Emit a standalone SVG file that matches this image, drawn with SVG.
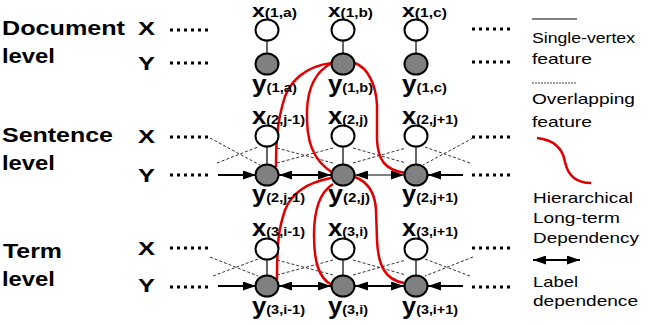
<svg xmlns="http://www.w3.org/2000/svg" width="648" height="325" viewBox="0 0 648 325">
<style>
.bg{fill:#fff}
.nx{fill:#fff;stroke:#000;stroke-width:2}
.ny{fill:#808080;stroke:#000;stroke-width:2}
.lab{font-family:"Liberation Sans",Arial,sans-serif;font-weight:bold;font-size:23px;fill:#000}
.top{font-size:19px}
.sub{font-size:13px}
.lvl{font-family:"Liberation Sans",Arial,sans-serif;font-weight:bold;font-size:21px;fill:#000}
.xy{font-family:"Liberation Sans",Arial,sans-serif;font-weight:bold;font-size:19px;fill:#000}
.leg{font-family:"Liberation Sans",Arial,sans-serif;font-size:15px;fill:#000}
.dots{stroke:#000;stroke-width:3;stroke-dasharray:3 4;fill:none}
.ovl{stroke:#333;stroke-width:1;stroke-dasharray:3 2;fill:none}
.sv{stroke:#000;stroke-width:1.2;fill:none}
.hl{stroke:#e00000;stroke-width:2.5;fill:none}
.ld{stroke:#000;stroke-width:2;fill:none}
.ldt{stroke:#000;stroke-width:1;fill:none}
</style>
<defs>
<marker id="ah" viewBox="0 0 13 9" refX="13" refY="4.5" markerWidth="13" markerHeight="9" markerUnits="userSpaceOnUse" orient="auto-start-reverse"><path d="M0,0 L13,4.5 L0,9 z" fill="#000"/></marker>
</defs>
<rect class="bg" width="648" height="325"/>

<!-- level labels -->
<g id="level-labels">
<text class="lvl" x="2" y="35" textLength="123" lengthAdjust="spacingAndGlyphs">Document</text>
<text class="lvl" x="2" y="63" textLength="53" lengthAdjust="spacingAndGlyphs">level</text>
<text class="lvl" x="2" y="142" textLength="111" lengthAdjust="spacingAndGlyphs">Sentence</text>
<text class="lvl" x="2" y="170" textLength="53" lengthAdjust="spacingAndGlyphs">level</text>
<text class="lvl" x="3" y="258" textLength="59" lengthAdjust="spacingAndGlyphs">Term</text>
<text class="lvl" x="2" y="286" textLength="53" lengthAdjust="spacingAndGlyphs">level</text>
</g>
<g id="row-labels">
<text class="xy" x="138" y="35" textLength="17" lengthAdjust="spacingAndGlyphs">X</text>
<text class="xy" x="138" y="70" textLength="17" lengthAdjust="spacingAndGlyphs">Y</text>
<text class="xy" x="138" y="143" textLength="17" lengthAdjust="spacingAndGlyphs">X</text>
<text class="xy" x="138" y="182" textLength="17" lengthAdjust="spacingAndGlyphs">Y</text>
<text class="xy" x="138" y="255" textLength="17" lengthAdjust="spacingAndGlyphs">X</text>
<text class="xy" x="138" y="292" textLength="17" lengthAdjust="spacingAndGlyphs">Y</text>
</g>

<g id="connectors">
<!-- dotted continuation -->
<line class="dots" x1="170" y1="30" x2="210" y2="30"/>
<line class="dots" x1="170" y1="63" x2="210" y2="63"/>
<line class="dots" x1="170" y1="137" x2="210" y2="137"/>
<line class="dots" x1="170" y1="175" x2="210" y2="175"/>
<line class="dots" x1="170" y1="248" x2="210" y2="248"/>
<line class="dots" x1="170" y1="287" x2="210" y2="287"/>
<line class="dots" x1="472" y1="29" x2="512" y2="29"/>
<line class="dots" x1="472" y1="62" x2="512" y2="62"/>
<line class="dots" x1="472" y1="137" x2="512" y2="137"/>
<line class="dots" x1="472" y1="175" x2="512" y2="175"/>
<line class="dots" x1="472" y1="248" x2="512" y2="248"/>
<line class="dots" x1="472" y1="287" x2="512" y2="287"/>
<!-- single-vertex features -->
<line class="sv" x1="267" y1="41" x2="267" y2="53"/>
<line class="sv" x1="343" y1="41" x2="343" y2="53"/>
<line class="sv" x1="416" y1="41" x2="416" y2="53"/>
<line class="sv" x1="267" y1="147" x2="267" y2="164"/>
<line class="sv" x1="343" y1="147" x2="343" y2="164"/>
<line class="sv" x1="416" y1="147" x2="416" y2="164"/>
<line class="sv" x1="267" y1="260" x2="267" y2="275"/>
<line class="sv" x1="343" y1="260" x2="343" y2="275"/>
<line class="sv" x1="416" y1="260" x2="416" y2="275"/>
<!-- overlapping features sentence -->
<line class="ovl" x1="210" y1="138" x2="260" y2="165"/>
<line class="ovl" x1="217" y1="163" x2="258" y2="147"/>
<line class="ovl" x1="277" y1="148" x2="333" y2="163"/>
<line class="ovl" x1="277" y1="163" x2="333" y2="148"/>
<line class="ovl" x1="353" y1="148" x2="406" y2="163"/>
<line class="ovl" x1="353" y1="163" x2="406" y2="148"/>
<line class="ovl" x1="473" y1="138" x2="423" y2="165"/>
<line class="ovl" x1="470" y1="163" x2="425" y2="147"/>
<!-- overlapping features term -->
<line class="ovl" x1="210" y1="257" x2="258" y2="276"/>
<line class="ovl" x1="213" y1="276" x2="258" y2="259"/>
<line class="ovl" x1="277" y1="260" x2="333" y2="275"/>
<line class="ovl" x1="277" y1="275" x2="333" y2="260"/>
<line class="ovl" x1="353" y1="260" x2="406" y2="275"/>
<line class="ovl" x1="353" y1="275" x2="406" y2="260"/>
<line class="ovl" x1="473" y1="257" x2="425" y2="276"/>
<line class="ovl" x1="470" y1="276" x2="425" y2="259"/>
<!-- label dependence sentence -->
<line class="ld" x1="218" y1="175" x2="256" y2="175" marker-end="url(#ah)"/>
<line class="ld" x1="279" y1="175" x2="331" y2="175" marker-start="url(#ah)" marker-end="url(#ah)"/>
<line class="ldt" x1="355" y1="175" x2="404" y2="175" marker-start="url(#ah)" marker-end="url(#ah)"/>
<line class="ld" x1="463" y1="175" x2="428" y2="175" marker-end="url(#ah)"/>
<!-- label dependence term -->
<line class="ld" x1="218" y1="286" x2="256" y2="286" marker-end="url(#ah)"/>
<line class="ld" x1="279" y1="286" x2="331" y2="286" marker-start="url(#ah)" marker-end="url(#ah)"/>
<line class="ld" x1="355" y1="286" x2="404" y2="286" marker-start="url(#ah)" marker-end="url(#ah)"/>
<line class="ld" x1="463" y1="286" x2="428" y2="286" marker-end="url(#ah)"/>
<!-- hierarchical long-term dependency -->
<path class="hl" d="M332,63 C305,66 288,82 283,103 C278,122 276,135 276,167"/>
<path class="hl" d="M332,63 C318,70 308,85 307,110 C306,140 312,160 333,173"/>
<path class="hl" d="M355,63 C368,68 376,85 377,105 L377,140 C378,160 385,170 405,173"/>
<path class="hl" d="M331,178 C310,182 292,192 285,210 C279,228 277,240 277,280"/>
<path class="hl" d="M333,184 C320,192 314,210 314,235 C314,260 318,278 332,285"/>
<path class="hl" d="M355,177 C368,182 375,192 376,210 L377,240 C378,265 385,280 404,283"/>
</g>

<!-- document level nodes -->
<g id="x1a"><ellipse class="nx" cx="267" cy="30" rx="11.5" ry="10.5"/><text class="lab top" x="252" y="17" textLength="45" lengthAdjust="spacingAndGlyphs">x<tspan class="sub">(1,a)</tspan></text></g>
<g id="x1b"><ellipse class="nx" cx="343" cy="30" rx="11.5" ry="10.5"/><text class="lab top" x="328" y="17" textLength="45" lengthAdjust="spacingAndGlyphs">x<tspan class="sub">(1,b)</tspan></text></g>
<g id="x1c"><ellipse class="nx" cx="416" cy="30" rx="11.5" ry="10.5"/><text class="lab top" x="402" y="17" textLength="45" lengthAdjust="spacingAndGlyphs">x<tspan class="sub">(1,c)</tspan></text></g>
<g id="y1a"><ellipse class="ny" cx="267" cy="64" rx="11.5" ry="10.5"/><text class="lab" x="252" y="92" textLength="45" lengthAdjust="spacingAndGlyphs">y<tspan class="sub">(1,a)</tspan></text></g>
<g id="y1b"><ellipse class="ny" cx="343" cy="64" rx="11.5" ry="10.5"/><text class="lab" x="328" y="92" textLength="45" lengthAdjust="spacingAndGlyphs">y<tspan class="sub">(1,b)</tspan></text></g>
<g id="y1c"><ellipse class="ny" cx="416" cy="64" rx="11.5" ry="10.5"/><text class="lab" x="402" y="92" textLength="45" lengthAdjust="spacingAndGlyphs">y<tspan class="sub">(1,c)</tspan></text></g>

<!-- sentence level nodes -->
<g id="x2jm1"><ellipse class="nx" cx="267" cy="136" rx="11.5" ry="10.5"/><text class="lab" x="252" y="124" textLength="53" lengthAdjust="spacingAndGlyphs">x<tspan class="sub">(2,j-1)</tspan></text></g>
<g id="x2j"><ellipse class="nx" cx="343" cy="136" rx="11.5" ry="10.5"/><text class="lab" x="328" y="124" textLength="40" lengthAdjust="spacingAndGlyphs">x<tspan class="sub">(2,j)</tspan></text></g>
<g id="x2jp1"><ellipse class="nx" cx="416" cy="136" rx="11.5" ry="10.5"/><text class="lab" x="402" y="124" textLength="56" lengthAdjust="spacingAndGlyphs">x<tspan class="sub">(2,j+1)</tspan></text></g>
<g id="y2jm1"><ellipse class="ny" cx="267" cy="175" rx="11.5" ry="10.5"/><text class="lab" x="252" y="202" textLength="53" lengthAdjust="spacingAndGlyphs">y<tspan class="sub">(2,j-1)</tspan></text></g>
<g id="y2j"><ellipse class="ny" cx="343" cy="175" rx="11.5" ry="10.5"/><text class="lab" x="328" y="202" textLength="42" lengthAdjust="spacingAndGlyphs">y<tspan class="sub">(2,j)</tspan></text></g>
<g id="y2jp1"><ellipse class="ny" cx="416" cy="175" rx="11.5" ry="10.5"/><text class="lab" x="402" y="202" textLength="56" lengthAdjust="spacingAndGlyphs">y<tspan class="sub">(2,j+1)</tspan></text></g>

<!-- term level nodes -->
<g id="x3im1"><ellipse class="nx" cx="267" cy="249" rx="11.5" ry="10.5"/><text class="lab" x="252" y="236" textLength="53" lengthAdjust="spacingAndGlyphs">x<tspan class="sub">(3,i-1)</tspan></text></g>
<g id="x3i"><ellipse class="nx" cx="343" cy="249" rx="11.5" ry="10.5"/><text class="lab" x="328" y="236" textLength="40" lengthAdjust="spacingAndGlyphs">x<tspan class="sub">(3,i)</tspan></text></g>
<g id="x3ip1"><ellipse class="nx" cx="416" cy="249" rx="11.5" ry="10.5"/><text class="lab" x="402" y="236" textLength="56" lengthAdjust="spacingAndGlyphs">x<tspan class="sub">(3,i+1)</tspan></text></g>
<g id="y3im1"><ellipse class="ny" cx="267" cy="286" rx="11.5" ry="10.5"/><text class="lab" x="252" y="314" textLength="53" lengthAdjust="spacingAndGlyphs">y<tspan class="sub">(3,i-1)</tspan></text></g>
<g id="y3i"><ellipse class="ny" cx="343" cy="286" rx="11.5" ry="10.5"/><text class="lab" x="328" y="314" textLength="40" lengthAdjust="spacingAndGlyphs">y<tspan class="sub">(3,i)</tspan></text></g>
<g id="y3ip1"><ellipse class="ny" cx="416" cy="286" rx="11.5" ry="10.5"/><text class="lab" x="402" y="314" textLength="56" lengthAdjust="spacingAndGlyphs">y<tspan class="sub">(3,i+1)</tspan></text></g>

<!-- legend -->
<g id="legend">
<line x1="532" y1="19" x2="577" y2="19" stroke="#000" stroke-width="1"/>
<text class="leg" x="532" y="43" textLength="103" lengthAdjust="spacingAndGlyphs">Single-vertex</text>
<text class="leg" x="532" y="64" textLength="60" lengthAdjust="spacingAndGlyphs">feature</text>
<line x1="532" y1="83" x2="577" y2="83" stroke="#444" stroke-width="1" stroke-dasharray="2 1"/>
<text class="leg" x="532" y="104" textLength="103" lengthAdjust="spacingAndGlyphs">Overlapping</text>
<text class="leg" x="532" y="127" textLength="60" lengthAdjust="spacingAndGlyphs">feature</text>
<path class="hl" d="M537,138 C555,140 563,150 565,162 C568,176 576,183 591,183"/>
<text class="leg" x="533" y="203" textLength="100" lengthAdjust="spacingAndGlyphs">Hierarchical</text>
<text class="leg" x="533" y="223" textLength="87" lengthAdjust="spacingAndGlyphs">Long-term</text>
<text class="leg" x="533" y="243" textLength="106" lengthAdjust="spacingAndGlyphs">Dependency</text>
<line class="ld" x1="533" y1="260" x2="580" y2="260" marker-start="url(#ah)" marker-end="url(#ah)"/>
<text class="leg" x="533" y="287" textLength="45" lengthAdjust="spacingAndGlyphs">Label</text>
<text class="leg" x="533" y="306" textLength="105" lengthAdjust="spacingAndGlyphs">dependence</text>
</g>
</svg>
